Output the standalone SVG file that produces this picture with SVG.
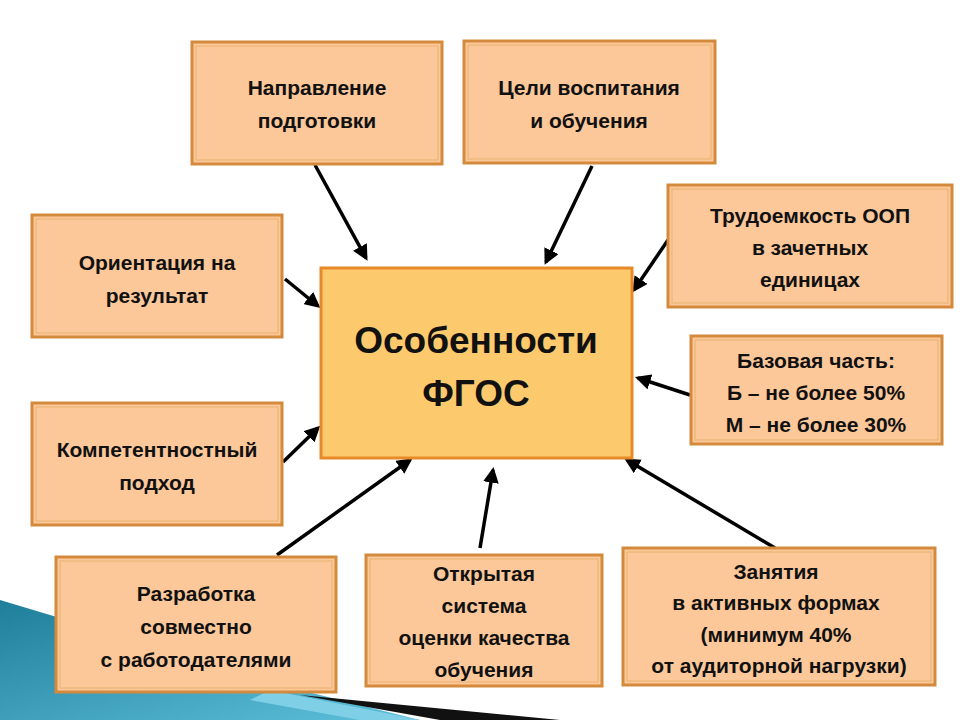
<svg xmlns="http://www.w3.org/2000/svg" width="960" height="720" viewBox="0 0 960 720">
<defs>
<style>
.b{fill:#fcc89a;stroke:#d48a3c;stroke-width:3}
.bi{fill:none;stroke:#e8b070;stroke-width:1}
.c{fill:#fcc96c;stroke:#e88a2a;stroke-width:3}
.t{font-family:"Liberation Sans",Arial,sans-serif;font-weight:bold;font-size:21px;fill:#111;text-anchor:middle}
.tc{font-family:"Liberation Sans",Arial,sans-serif;font-weight:bold;font-size:37px;fill:#111;text-anchor:middle}
.a{stroke:#000;stroke-width:3.5;fill:none;marker-end:url(#m)}
</style>
<marker id="m" viewBox="0 0 10 10" refX="8" refY="5" markerWidth="4.5" markerHeight="4.5" orient="auto"><path d="M0,0L10,5L0,10z" fill="#000"/></marker>
<linearGradient id="g" x1="0" y1="0" x2="1" y2="1"><stop offset="0" stop-color="#1f7f9a"/><stop offset="1" stop-color="#5fc0dc"/></linearGradient>
</defs>
<rect width="960" height="720" fill="#fff"/>
<g id="decor">
<polygon points="0,600 300,690 420,720 0,720" fill="url(#g)"/>
<polygon points="270,690 420,720 360,720 250,700" fill="#7fd0e6"/>
<polygon points="300,695 560,720 440,720" fill="#111"/>
</g>
<g id="connectors">
<line class="a" x1="315" y1="165" x2="366" y2="258"/>
<line class="a" x1="592" y1="166" x2="546" y2="262"/>
<line class="a" x1="668" y1="240" x2="634" y2="290"/>
<line class="a" x1="690" y1="395" x2="638" y2="378"/>
<line class="a" x1="285" y1="279" x2="318" y2="306"/>
<line class="a" x1="283" y1="462" x2="318" y2="428"/>
<line class="a" x1="277" y1="555" x2="410" y2="460"/>
<line class="a" x1="480" y1="548" x2="493" y2="470"/>
<line class="a" x1="775" y1="548" x2="627" y2="460"/>
</g>
<g id="center"><rect class="c" x="321" y="268" width="311" height="190"/><text class="tc" x="476" y="353">Особенности</text><text class="tc" x="476" y="406">ФГОС</text></g>
<g id="n1"><rect class="b" x="192" y="42" width="250" height="122"/><rect class="bi" x="196" y="46" width="242" height="114"/><text class="t" x="317" y="95">Направление</text><text class="t" x="317" y="128">подготовки</text></g>
<g id="n2"><rect class="b" x="464" y="41" width="251" height="122"/><rect class="bi" x="468" y="45" width="243" height="114"/><text class="t" x="589" y="95">Цели воспитания</text><text class="t" x="589" y="128">и обучения</text></g>
<g id="n3"><rect class="b" x="32" y="215" width="250" height="122"/><rect class="bi" x="36" y="219" width="242" height="114"/><text class="t" x="157" y="270">Ориентация на</text><text class="t" x="157" y="303">результат</text></g>
<g id="n4"><rect class="b" x="668" y="185" width="284" height="122"/><rect class="bi" x="672" y="189" width="276" height="114"/><text class="t" x="810" y="223">Трудоемкость ООП</text><text class="t" x="810" y="255">в зачетных</text><text class="t" x="810" y="287">единицах</text></g>
<g id="n5"><rect class="b" x="691" y="336" width="251" height="108"/><rect class="bi" x="695" y="340" width="243" height="100"/><text class="t" x="816" y="368">Базовая часть:</text><text class="t" x="816" y="400">Б – не более 50%</text><text class="t" x="816" y="432">М – не более 30%</text></g>
<g id="n6"><rect class="b" x="32" y="403" width="250" height="122"/><rect class="bi" x="36" y="407" width="242" height="114"/><text class="t" x="157" y="457">Компетентностный</text><text class="t" x="157" y="490">подход</text></g>
<g id="n7"><rect class="b" x="56" y="557" width="280" height="135"/><rect class="bi" x="60" y="561" width="272" height="127"/><text class="t" x="196" y="601">Разработка</text><text class="t" x="196" y="634">совместно</text><text class="t" x="196" y="667">с работодателями</text></g>
<g id="n8"><rect class="b" x="366" y="555" width="236" height="131"/><rect class="bi" x="370" y="559" width="228" height="123"/><text class="t" x="484" y="581">Открытая</text><text class="t" x="484" y="613">система</text><text class="t" x="484" y="645">оценки качества</text><text class="t" x="484" y="677">обучения</text></g>
<g id="n9"><rect class="b" x="623" y="548" width="312" height="137"/><rect class="bi" x="627" y="552" width="304" height="129"/><text class="t" x="776" y="579">Занятия</text><text class="t" x="776" y="610">в активных формах</text><text class="t" x="776" y="642">(минимум 40%</text><text class="t" x="779" y="673">от аудиторной нагрузки)</text></g>
</svg>
